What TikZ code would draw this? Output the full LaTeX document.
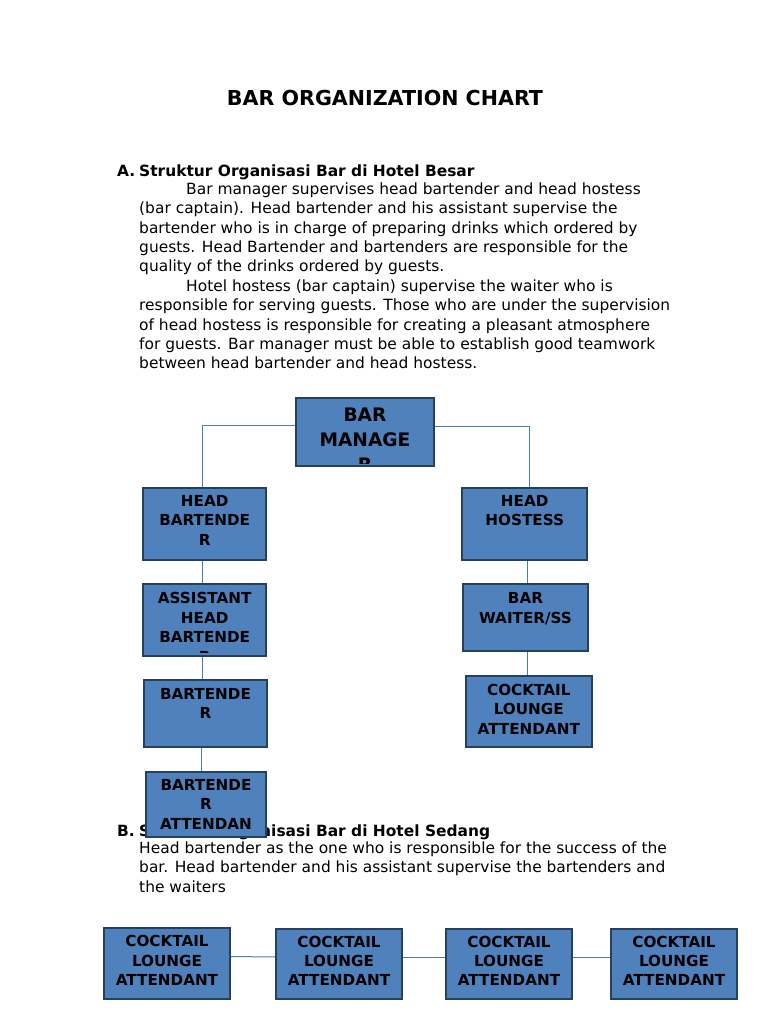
\documentclass[tikz,border=0pt]{standalone}
\usepackage{fontspec}
\setmainfont{DejaVu Sans}
\pgfdeclarelayer{bg}
\pgfdeclarelayer{lines}
\pgfsetlayers{bg,lines,main}
\definecolor{boxfill}{RGB}{79,129,189}
\definecolor{boxline}{RGB}{37,64,97}
\definecolor{connc}{RGB}{74,126,187}
\tikzset{
  box/.style={draw=boxline, fill=boxfill, line width=2pt, inner sep=0pt, outer sep=0pt},
  txt/.style={anchor=base west, inner sep=0pt, font=\fontsize{15.45}{19.4}\selectfont, text=black},
  hd/.style={anchor=base west, inner sep=0pt, font=\bfseries\fontsize{15.45}{19.4}\selectfont, text=black},
  lbl/.style={anchor=base, inner sep=0pt, font=\bfseries\fontsize{15.2}{19}\selectfont, text=black},
  lblbig/.style={anchor=base, inner sep=0pt, font=\bfseries\fontsize{18.6}{24}\selectfont, text=black},
  conn/.style={draw=connc, line width=1pt},
}
\begin{document}
\begin{tikzpicture}[x=1pt,y=-1pt]
\begin{pgfonlayer}{bg}
\fill[white] (0,0) rectangle (768,1024);
\end{pgfonlayer}
\useasboundingbox (0,0) rectangle (768,1024);

% title
\node[anchor=base, inner sep=0pt, font=\bfseries\fontsize{20.6}{24}\selectfont] (title) at (385,106) {BAR ORGANIZATION CHART};

% section A
\node[hd] (aA) at (117,176.7) {A.};
\node[hd] (aH) at (139,176.7) {Struktur Organisasi Bar di Hotel Besar};
\node[txt] (a0) at (186,194.3) {Bar manager supervises head bartender and head hostess};
\node[txt] (a1) at (139,213.7) {(bar captain). Head bartender and his assistant supervise the};
\node[txt] (a2) at (139,233.1) {bartender who is in charge of preparing drinks which ordered by};
\node[txt] (a3) at (139,252.5) {guests. Head Bartender and bartenders are responsible for the};
\node[txt] (a4) at (139,271.9) {quality of the drinks ordered by guests.};
\node[txt] (a5) at (186,291.3) {Hotel hostess (bar captain) supervise the waiter who is};
\node[txt] (a6) at (139,310.7) {responsible for serving guests. Those who are under the supervision};
\node[txt] (a7) at (139,330.1) {of head hostess is responsible for creating a pleasant atmosphere};
\node[txt] (a8) at (139,349.5) {for guests. Bar manager must be able to establish good teamwork};
\node[txt] (a9) at (139,368.9) {between head bartender and head hostess.};

% section B
\node[hd] (bB) at (117,836) {B.};
\node[hd] (bH) at (139,836) {Struktur Organisasi Bar di Hotel Sedang};
\node[txt] (b0) at (139,853.3) {Head bartender as the one who is responsible for the success of the};
\node[txt] (b1) at (139,872.7) {bar. Head bartender and his assistant supervise the bartenders and};
\node[txt] (b2) at (139,892) {the waiters};

% tree boxes
\node[box, minimum width=138pt, minimum height=68pt] (bm) at (365,432.3) {};
\begin{scope}
\clip (297,399) rectangle (433,463);
\node[lblbig] (bm1) at (365,421.7) {BAR};
\node[lblbig] (bm2) at (365,446.7) {MANAGE};
\node[lblbig] (bm3) at (365,471.7) {R};
\end{scope}

\node[box, minimum width=123.3pt, minimum height=72pt] (hb) at (204.7,523.7) {};
\node[lbl] (hb1) at (204.7,506.7) {HEAD};
\node[lbl] (hb2) at (204.7,525.8) {BARTENDE};
\node[lbl] (hb3) at (204.7,545) {R};

\node[box, minimum width=125.3pt, minimum height=72pt] (hh) at (524.7,523.7) {};
\node[lbl] (hh1) at (524.7,506.7) {HEAD};
\node[lbl] (hh2) at (524.7,525.8) {HOSTESS};

\node[box, minimum width=123.3pt, minimum height=71.4pt] (ahb) at (204.7,620) {};
\begin{scope}
\clip (144,585) rectangle (265,652);
\node[lbl] (ahb1) at (204.7,603.3) {ASSISTANT};
\node[lbl] (ahb2) at (204.7,623.3) {HEAD};
\node[lbl] (ahb3) at (204.7,642.7) {BARTENDE};
\node[lbl] (ahb4) at (204.7,662.3) {R};
\end{scope}

\node[box, minimum width=125.6pt, minimum height=67pt] (bw) at (525.5,617.8) {};
\node[lbl] (bw1) at (525.5,603.3) {BAR};
\node[lbl] (bw2) at (525.5,623.3) {WAITER/SS};

\node[box, minimum width=123.6pt, minimum height=67.6pt] (bt) at (205.5,713.5) {};
\node[lbl] (bt1) at (205.5,699.3) {BARTENDE};
\node[lbl] (bt2) at (205.5,718.5) {R};

\node[box, minimum width=125.7pt, minimum height=71pt] (cla) at (528.8,711.8) {};
\node[lbl] (cla1) at (528.8,695) {COCKTAIL};
\node[lbl] (cla2) at (528.8,714.3) {LOUNGE};
\node[lbl] (cla3) at (528.8,734) {ATTENDANT};

\node[box, minimum width=120pt, minimum height=64.5pt] (bta) at (206,804.3) {};
\node[lbl] (bta1) at (206,790) {BARTENDE};
\node[lbl] (bta2) at (206,809.5) {R};
\node[lbl] (bta3) at (206,829) {ATTENDAN};

% bottom row
\node[box, minimum width=126pt, minimum height=71pt] (c1) at (167,963.5) {};
\node[lbl] (c1a) at (167,946.7) {COCKTAIL};
\node[lbl] (c1b) at (167,966) {LOUNGE};
\node[lbl] (c1c) at (167,985.3) {ATTENDANT};

\node[box, minimum width=126pt, minimum height=70pt] (c2) at (339,964) {};
\node[lbl] (c2a) at (339,947) {COCKTAIL};
\node[lbl] (c2b) at (339,966.3) {LOUNGE};
\node[lbl] (c2c) at (339,985.6) {ATTENDANT};

\node[box, minimum width=126pt, minimum height=70pt] (c3) at (509,964) {};
\node[lbl] (c3a) at (509,947) {COCKTAIL};
\node[lbl] (c3b) at (509,966.3) {LOUNGE};
\node[lbl] (c3c) at (509,985.6) {ATTENDANT};

\node[box, minimum width=126pt, minimum height=70pt] (c4) at (674,964) {};
\node[lbl] (c4a) at (674,947) {COCKTAIL};
\node[lbl] (c4b) at (674,966.3) {LOUNGE};
\node[lbl] (c4c) at (674,985.6) {ATTENDANT};

% connectors
\begin{pgfonlayer}{lines}
\draw[conn] ([yshift=7.3pt]bm.west) -| ([xshift=-2pt]hb.north);
\draw[conn] ([yshift=6.3pt]bm.east) -| ([xshift=4.3pt]hh.north);
\draw[conn] ([xshift=-2pt]hb.south) -- ([xshift=-2pt]ahb.north);
\draw[conn] ([xshift=-2pt]ahb.south) -- ([xshift=-2.8pt]bt.north);
\draw[conn] ([xshift=-4.5pt]bt.south) -- ([xshift=-5pt]bta.north);
\draw[conn] ([xshift=3pt]hh.south) -- ([xshift=2.2pt]bw.north);
\draw[conn] ([xshift=1.8pt]bw.south) -- ([xshift=-1.5pt]cla.north);
\draw[conn] ([yshift=7pt]c1.east) -- ([yshift=7pt]c2.west);
\draw[conn] ([yshift=7pt]c2.east) -- ([yshift=7pt]c3.west);
\draw[conn] ([yshift=7pt]c3.east) -- ([yshift=7pt]c4.west);
\end{pgfonlayer}
\end{tikzpicture}
\end{document}
